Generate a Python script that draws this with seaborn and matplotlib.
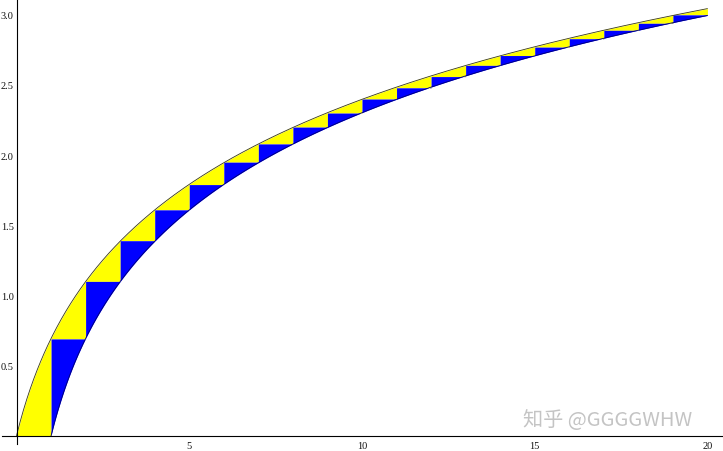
'''
Staircase between log(x) and log(x+1) on [0, 20]
yellow: between step level and upper curve, blue: between lower curve and step level
'''

import numpy as np
import matplotlib
matplotlib.use('Agg')
import matplotlib.pyplot as plt
import matplotlib.ticker as mtick
import seaborn as sns


# step level on each unit interval [n, n+1]
step_x = list(range(0, 20))
step_h = [0.00, 0.69, 1.10, 1.39, 1.61, 1.79, 1.95, 2.08, 2.20, 2.30,
          2.40, 2.48, 2.56, 2.64, 2.71, 2.77, 2.83, 2.89, 2.94, 3.00]

x_ticks = [5, 10, 15, 20]
y_ticks = [0.5, 1.0, 1.5, 2.0, 2.5, 3.0]
watermark = '知乎 @GGGGWHW'

YELLOW = '#ffff00'
BLUE = '#0000ff'


def upper_curve(x):
    # the plotted function log(x + 1)
    return np.log1p(x)


def lower_curve(x):
    # the plotted function log(x), only for x >= 1
    return np.log(x)


if __name__ == '__main__':
    sns.set_theme(style='white')
    plt.rcParams['font.family'] = ['Liberation Serif', 'DejaVu Serif']

    fig = plt.figure(figsize=(7.23, 4.52), dpi=100)
    ax = fig.add_axes([0, 0, 1, 1])

    # fill each unit interval
    for n, h in zip(step_x, step_h):
        xs = np.linspace(n, n + 1, 60)
        ax.fill_between(xs, h, upper_curve(xs), color=YELLOW, lw=0)
        if n >= 1:
            ax.fill_between(xs, lower_curve(xs), h, color=BLUE, lw=0)

    # outline curves
    xu = np.linspace(0, 20, 600)
    sns.lineplot(x=xu, y=upper_curve(xu), ax=ax, color='#3a3a10', lw=0.6)
    xl = np.linspace(1, 20, 600)
    sns.lineplot(x=xl, y=lower_curve(xl), ax=ax, color='#000070', lw=0.6)
    ax.plot([0, 1], [0, 0], color='#c04040', lw=0.6)

    ax.set_xlim(-0.478, 20.45)
    ax.set_ylim(-0.109, 3.113)

    # Mathematica style axes through the origin
    for s in ['top', 'right']:
        ax.spines[s].set_visible(False)
    ax.spines['left'].set_position(('data', 0))
    ax.spines['bottom'].set_position(('data', 0))
    ax.spines['left'].set_bounds(-0.06, 3.113)
    ax.spines['bottom'].set_bounds(-0.42, 20.45)
    for s in ['left', 'bottom']:
        ax.spines[s].set_color('black')
        ax.spines[s].set_linewidth(0.8)
        ax.spines[s].set_zorder(5)

    ax.xaxis.set_major_locator(mtick.FixedLocator(x_ticks))
    ax.xaxis.set_minor_locator(mtick.MultipleLocator(1))
    ax.yaxis.set_major_locator(mtick.FixedLocator(y_ticks))
    ax.yaxis.set_minor_locator(mtick.MultipleLocator(0.1))
    ax.set_xticklabels([str(v) for v in x_ticks])
    ax.set_yticklabels([f'{v:.1f}' for v in y_ticks])

    ax.tick_params(axis='both', which='both', direction='in', color='black',
                   width=0.6, labelsize=7.5, labelcolor='#111111')
    ax.tick_params(axis='both', which='major', length=3.2)
    ax.tick_params(axis='both', which='minor', length=1.6)
    ax.tick_params(axis='x', which='major', pad=4)
    ax.tick_params(axis='y', which='major', pad=2)
    ax.set_xlabel('')
    ax.set_ylabel('')
    ax.grid(False)

    fig.text(523 / 723, 1 - 421 / 452, watermark, ha='left', va='center',
             fontsize=14.5, color='#c4c4c4',
             family=['Noto Sans CJK SC', 'DejaVu Sans'])

    fig.savefig('out.png', dpi=100)
    plt.close(fig)
